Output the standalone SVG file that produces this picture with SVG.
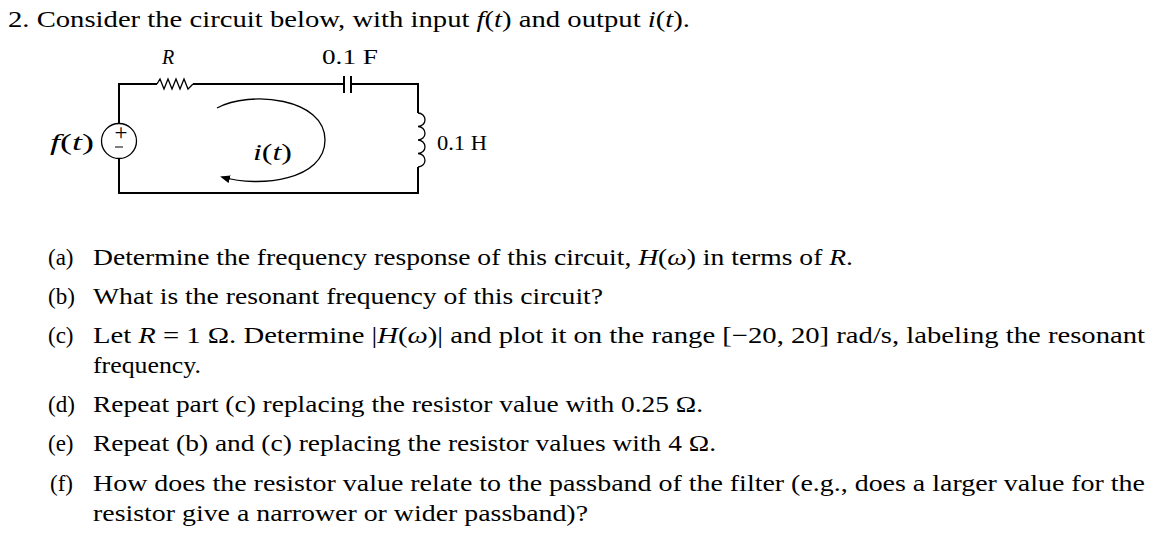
<svg xmlns="http://www.w3.org/2000/svg" width="1156" height="537" viewBox="0 0 1156 537">
<style>
text{font-family:"Liberation Serif","DejaVu Serif",serif;font-size:23px;fill:#000}
.s{font-size:20px}
.w{fill:none;stroke:#000;stroke-width:2}
.t{fill:none;stroke:#000;stroke-width:1.3}
</style>
<defs><marker id="ah" markerWidth="10" markerHeight="8" refX="8" refY="4" orient="auto" markerUnits="userSpaceOnUse"><path d="M0,0L10,4L0,8z" fill="#000"/></marker></defs>
<rect width="1156" height="537" fill="#fff"/>
<text x="8" y="27" textLength="682" lengthAdjust="spacingAndGlyphs">2. Consider the circuit below, with input <tspan font-style="italic">f</tspan>(<tspan font-style="italic">t</tspan>) and output <tspan font-style="italic">i</tspan>(<tspan font-style="italic">t</tspan>).</text>
<g id="connectors">
<path class="w" d="M119,123V84H157M193,84H344M351,84H418V113M418,167V193H119V159"/>
</g>
<g id="resistor"><path class="t" d="M157,84L160,79L164,89L168,79L172,89L176,79L180,89L184,79L188,89L193,84"/><text x="162" y="64" class="s" font-style="italic">R</text></g>
<g id="capacitor"><path class="w" d="M344,76V93M351,76V93"/><text x="322" y="64" class="s" textLength="56" lengthAdjust="spacingAndGlyphs">0.1 F</text></g>
<g id="inductor"><path class="t" d="M418,113a7,6.75 0 0 1 0,13.5a7,6.75 0 0 1 0,13.5a7,6.75 0 0 1 0,13.5a7,6.75 0 0 1 0,13.5"/><text x="437" y="150" class="s" textLength="50" lengthAdjust="spacingAndGlyphs">0.1 H</text></g>
<g id="source"><circle class="t" cx="119" cy="141" r="17.5"/><text x="114.5" y="140" font-size="12">+</text><path d="M115,147H123" stroke="#000" stroke-width="1"/><text x="50" y="150" textLength="44" lengthAdjust="spacingAndGlyphs"><tspan font-style="italic">f</tspan>(<tspan font-style="italic">t</tspan>)</text></g>
<g id="current"><path class="t" marker-end="url(#ah)" d="M217,108C250,90 325,98 325,140C325,180 260,188 222,177"/><text x="253" y="160" textLength="39" lengthAdjust="spacingAndGlyphs"><tspan font-style="italic">i</tspan>(<tspan font-style="italic">t</tspan>)</text></g>
<text x="48" y="265">(a)</text><text x="93" y="265" textLength="760" lengthAdjust="spacingAndGlyphs">Determine the frequency response of this circuit, <tspan font-style="italic">H</tspan>(<tspan font-style="italic">ω</tspan>) in terms of <tspan font-style="italic">R</tspan>.</text>
<text x="48" y="304">(b)</text><text x="93" y="304" textLength="510" lengthAdjust="spacingAndGlyphs">What is the resonant frequency of this circuit?</text>
<text x="48" y="343">(c)</text>
<text x="93" y="343" textLength="1052" lengthAdjust="spacingAndGlyphs">Let <tspan font-style="italic">R</tspan> = 1 Ω. Determine |<tspan font-style="italic">H</tspan>(<tspan font-style="italic">ω</tspan>)| and plot it on the range [−20, 20] rad/s, labeling the resonant</text>
<text x="93" y="373" textLength="108" lengthAdjust="spacingAndGlyphs">frequency.</text>
<text x="48" y="412">(d)</text><text x="93" y="412" textLength="610" lengthAdjust="spacingAndGlyphs">Repeat part (c) replacing the resistor value with 0.25 Ω.</text>
<text x="48" y="451">(e)</text><text x="93" y="451" textLength="623" lengthAdjust="spacingAndGlyphs">Repeat (b) and (c) replacing the resistor values with 4 Ω.</text>
<text x="50" y="491">(f)</text>
<text x="93" y="491" textLength="1052" lengthAdjust="spacingAndGlyphs">How does the resistor value relate to the passband of the filter (e.g., does a larger value for the</text>
<text x="93" y="521" textLength="495" lengthAdjust="spacingAndGlyphs">resistor give a narrower or wider passband)?</text>
</svg>
